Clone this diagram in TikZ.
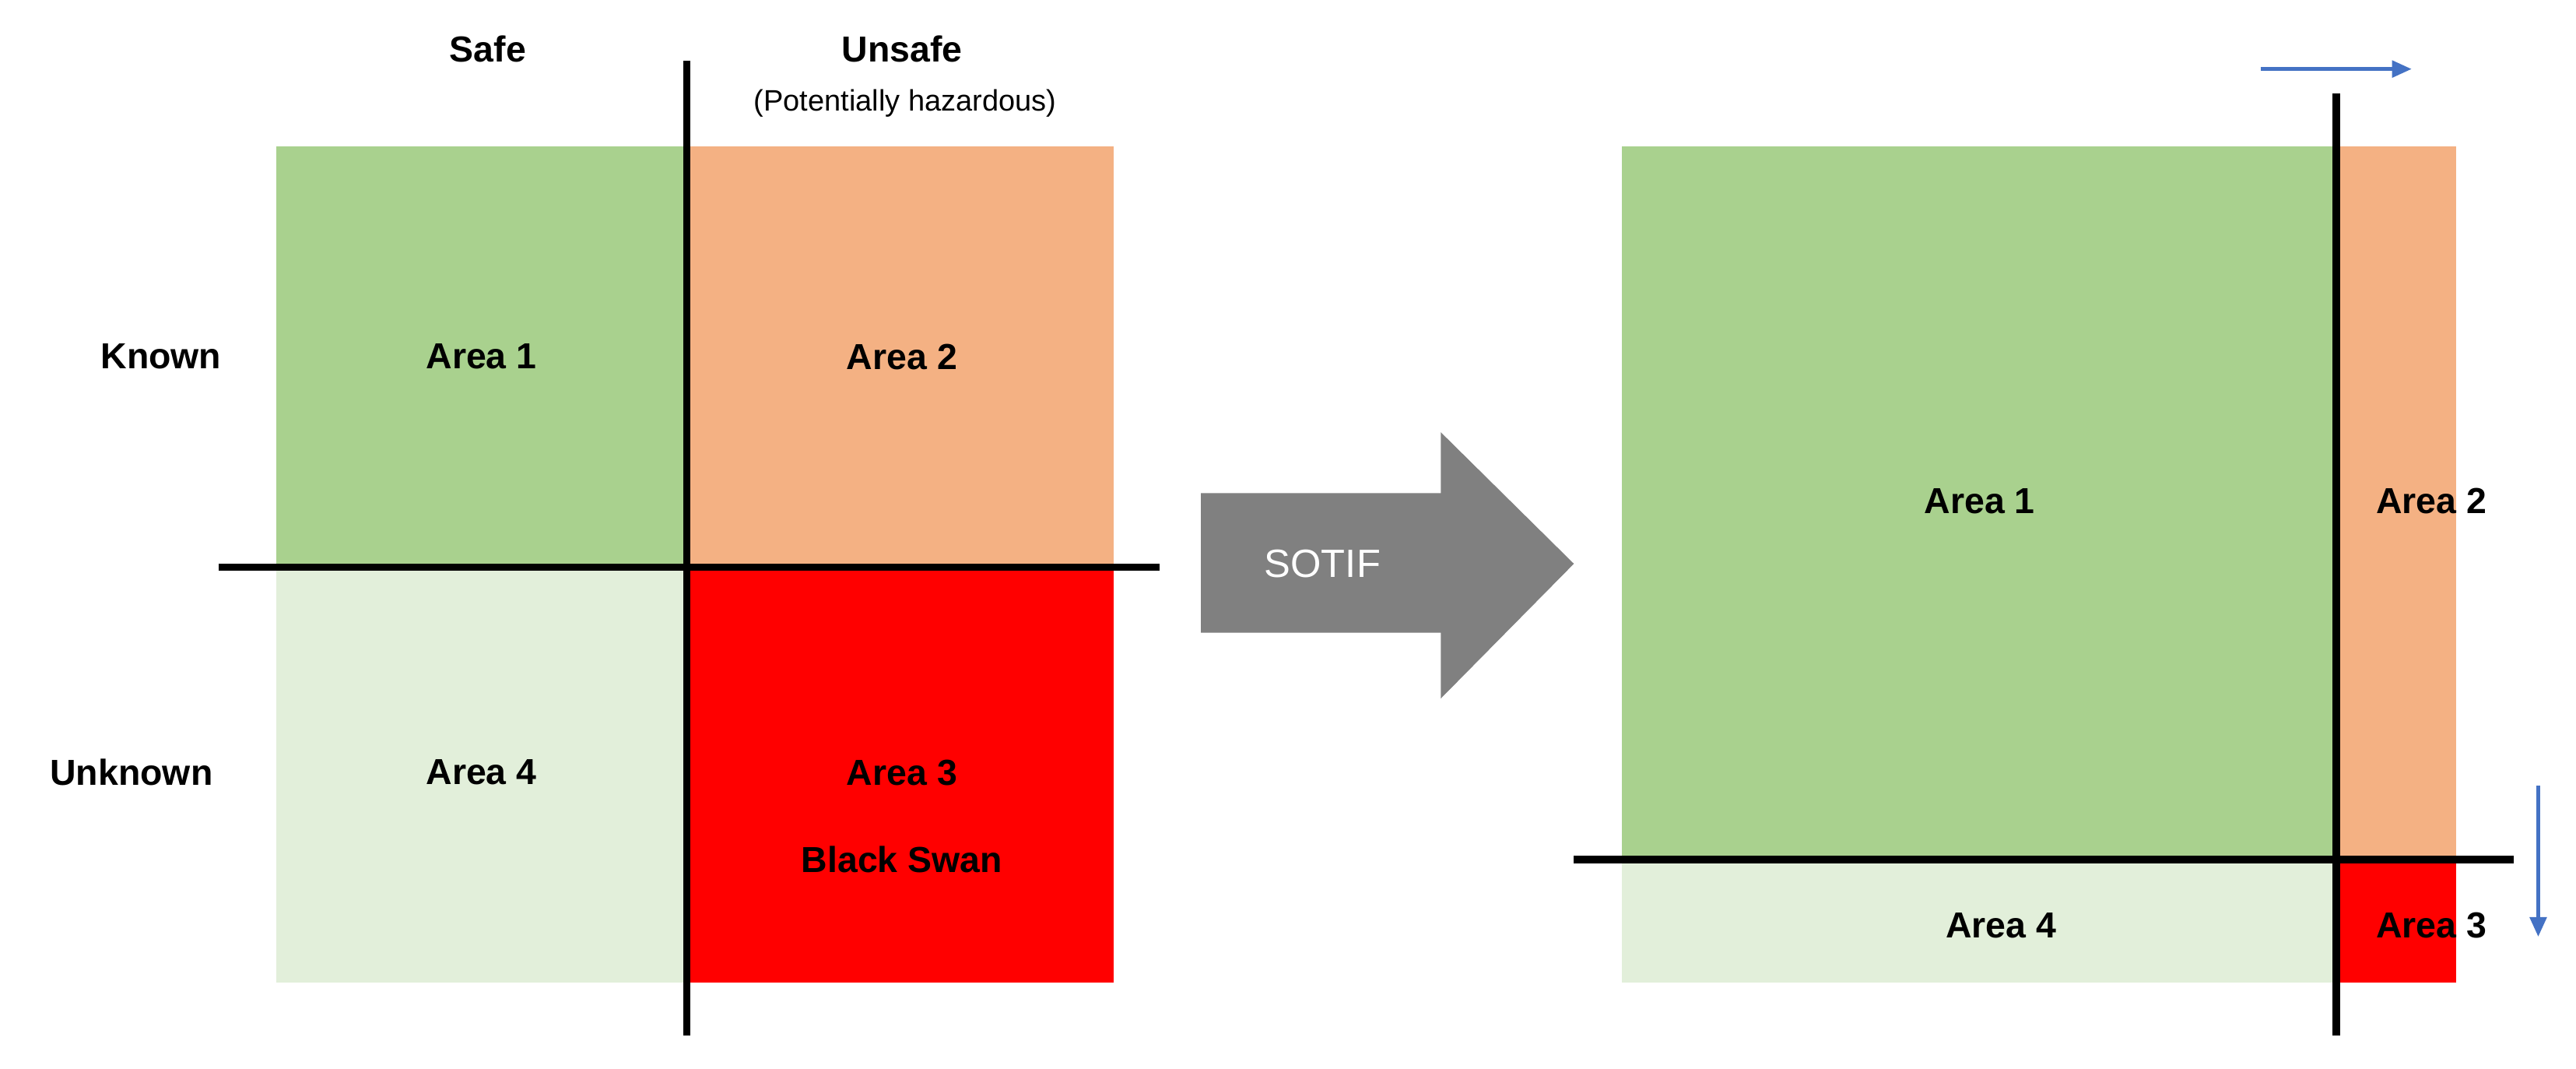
\documentclass[tikz,border=0pt]{standalone}
\usepackage{fontspec}
\setmainfont{Liberation Sans}
\usetikzlibrary{arrows.meta}
\definecolor{g1}{HTML}{A9D18E}
\definecolor{o2}{HTML}{F4B183}
\definecolor{g4}{HTML}{E2EFDA}
\definecolor{r3}{HTML}{FF0000}
\definecolor{gr}{HTML}{808080}
\definecolor{bl}{HTML}{4472C4}
\begin{document}
\begin{tikzpicture}[x=1pt,y=-1pt,
  lab/.style={font=\fontsize{22}{26}\selectfont\bfseries},
  axis/.style={line width=4.5pt},
  barrow/.style={bl,line width=2.5pt,-{Triangle[length=12pt,width=10pt]}}]
\useasboundingbox (0,0) rectangle (1568,650);
% left
\fill[g1] (168,89) rectangle (418,345);
\fill[o2] (418,89) rectangle (678,345);
\fill[g4] (168,345) rectangle (418,598);
\fill[r3] (418,345) rectangle (678,598);
\draw[axis] (418,37) -- (418,630);
\draw[axis] (133,345) -- (706,345);
\node[lab] (safe) at (297,30) {Safe};
\node[lab] (unsafe) at (549,30) {Unsafe};
\node[font=\fontsize{18}{22}\selectfont] (pot) at (551,63) {(Potentially hazardous)};
\node[lab] (known) at (98,217) {Known};
\node[lab] (unknown) at (80,470) {Unknown};
\node[lab] (a1) at (293,217) {Area 1};
\node[lab] (a2) at (549,217) {Area 2};
\node[lab] (a4) at (293,470) {Area 4};
\node[lab] (a3) at (549,470) {Area 3};
\node[lab] (bs) at (549,523) {Black Swan};
% big arrow
\fill[gr] (731,300) -- (877,300) -- (877,263) -- (958,343) -- (877,425) -- (877,385) -- (731,385) -- cycle;
\node[white,font=\fontsize{24}{28}\selectfont] (sotif) at (805,343) {SOTIF};
% right
\fill[g1] (987,89) rectangle (1422,523);
\fill[o2] (1422,89) rectangle (1495,523);
\fill[g4] (987,523) rectangle (1422,598);
\fill[r3] (1422,523) rectangle (1495,598);
\draw[axis] (1422,57) -- (1422,630);
\draw[axis] (958,523) -- (1530,523);
\node[lab] (b1) at (1205,305) {Area 1};
\node[lab] (b2) at (1480,305) {Area 2};
\node[lab] (b4) at (1218,563) {Area 4};
\node[lab] (b3) at (1480,563) {Area 3};
\coordinate (h1) at (1376,42); \coordinate (h2) at (1468,42);
\coordinate (v1) at (1545,478); \coordinate (v2) at (1545,570);
\draw[barrow] (h1) -- (h2);
\draw[barrow] (v1) -- (v2);
\end{tikzpicture}
\end{document}
